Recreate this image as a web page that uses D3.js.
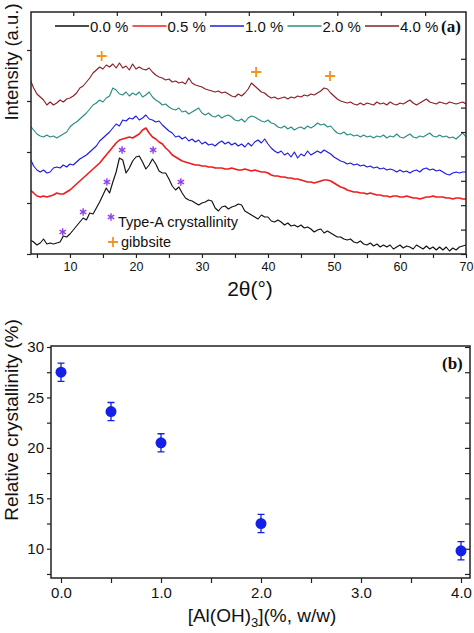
<!DOCTYPE html>
<html>
<head>
<meta charset="utf-8">
<script src="https://cdn.jsdelivr.net/npm/d3@7"></script>
<style>
  body { margin: 0; background: #fff; }
  text { font-family: Arial, "Liberation Sans", sans-serif; fill: #111; }
</style>
</head>
<body>
<svg id="chart" width="474" height="633"></svg>
<script>
// ---- panel (a): XRD patterns, sampled every 0.5 deg from 4 to 70 ----
var theta = d3.range(4, 70.25, 0.5);

var i00 = [14,12,9,11,15,10,11,10,11,12,
  18,17,20,24,28,32,36,34,41,40,
  46,52,59,66,61,72,82,96,94,81,
  86,93,97,98,92,85,89,95,90,83,
  81,81,75,68,64,67,61,56,54,53,
  51,49,51,52,54,53,46,43,47,48,
  45,47,48,50,49,43,41,39,37,35,
  39,37,37,33,32,34,32,29,31,28,
  29,27,29,26,27,25,22,24,25,21,
  23,21,19,17,17,15,14,15,12,11,
  13,10,9,11,8,10,7,9,7,9,
  5,7,9,6,8,7,5,9,7,5,
  8,5,7,4,7,4,7,3,6,4,
  7,8,9];

var i05 = [64,61,58,57,58,57,58,59,61,60,
  60,62,64,67,70,73,76,79,82,85,
  88,91,95,99,103,107,111,114,115,116,
  117,116,118,120,124,126,121,117,115,112,
  110,106,103,99,97,95,93,92,91,90,
  89,89,88,88,87,87,86,86,86,85,
  85,86,85,84,84,85,84,83,84,83,
  82,82,81,79,78,78,77,77,76,76,
  75,75,74,73,72,72,71,72,73,74,
  74,73,71,69,67,66,64,63,62,62,
  61,61,60,61,60,59,59,58,58,57,
  58,58,57,57,58,57,56,56,55,56,
  57,57,58,57,57,57,56,56,55,56,
  56,55,55];

var i10 = [95,88,84,82,84,81,82,86,87,86,
  89,87,90,89,92,95,97,99,102,105,
  108,113,116,119,122,126,130,128,134,133,
  136,135,138,134,136,139,135,134,132,133,
  129,126,123,121,117,118,115,117,113,115,
  112,114,110,112,109,110,108,111,113,110,
  112,109,111,108,110,107,111,108,112,114,
  111,115,110,106,103,101,103,99,101,97,
  102,96,100,98,103,99,101,103,101,104,
  102,100,97,95,93,92,90,91,89,90,
  88,89,87,88,86,87,85,86,84,85,
  84,82,84,82,83,81,83,84,82,85,
  86,84,85,83,84,82,80,79,81,82,
  81,82,82];

var i20 = [128,124,120,118,117,119,117,118,116,118,
  120,122,127,130,132,135,138,141,145,149,
  151,154,152,156,158,166,164,160,159,162,
  158,161,159,162,157,159,162,157,154,152,
  149,150,147,145,144,146,142,143,140,142,
  144,146,141,139,141,138,137,139,136,138,
  139,137,134,133,135,132,136,138,137,135,
  133,132,134,131,130,127,126,128,125,127,
  124,126,127,125,128,126,128,131,129,130,
  127,128,124,121,120,122,119,120,118,119,
  117,119,117,118,116,118,117,119,116,118,
  117,120,117,116,118,120,117,116,118,117,
  119,121,118,117,119,117,118,116,117,115,
  118,121,117];

var i40 = [174,166,160,157,154,149,152,149,151,154,
  152,155,156,158,161,166,168,172,176,181,
  184,187,185,189,187,190,186,191,186,188,
  184,190,185,187,185,184,186,182,179,177,
  176,174,175,172,173,171,172,170,176,171,
  169,168,167,165,164,163,162,163,161,162,
  160,158,157,160,158,161,165,171,168,165,
  162,161,158,156,157,155,156,157,155,157,
  156,158,157,159,158,160,159,161,163,166,
  165,161,158,155,153,152,151,152,150,149,
  151,149,151,150,149,152,150,151,149,152,
  150,149,151,150,152,154,151,149,151,153,
  155,152,151,150,152,151,150,152,151,150,
  151,152,150];

var seriesNames = ["0.0 %", "0.5 %", "1.0 %", "2.0 %", "4.0 %"];
var seriesColors = ["#111111", "#f01c1c", "#1c1ce0", "#2c8c84", "#8a1f27"];
var seriesValues = [i00, i05, i10, i20, i40];

var starTheta = [8.9, 12.0, 15.6, 17.9, 22.6, 26.8];
var starInt = [22, 42, 72, 104, 104, 72];
var gibbTheta = [14.8, 38.2, 49.4];
var gibbInt = [198, 182, 178];

var xTicksA = [5, 10, 15, 20, 25, 30, 35, 40, 45, 50, 55, 60, 65, 70];
var xTopTicksA = [10.5, 17.1, 23.8, 30.5, 37.1, 43.8, 50.5, 57.1, 63.8];
var yLeftTicksA = [0, 51, 102, 153, 204];
var yRightTicksA = [0, 24.4, 48.8, 73.2, 97.6, 122, 146.4, 170.8, 195.2];

// ---- panel (b): relative crystallinity ----
var conc = [0.0, 0.5, 1.0, 2.0, 4.0];
var cryst = [27.5, 23.6, 20.5, 12.5, 9.8];
var crystErr = [0.9, 0.9, 0.9, 0.9, 0.9];
var xTicksB = [0, 0.5, 1, 1.5, 2, 2.5, 3, 3.5, 4];
var yTicksB = [7.5, 10, 12.5, 15, 17.5, 20, 22.5, 25, 27.5, 30];

var svg = d3.select('#chart');
var axisColor = '#222';

function styleAxis(g) {
  g.select('.domain').remove();
  g.selectAll('.tick line').attr('stroke', axisColor).attr('stroke-width', 1.2);
  g.selectAll('.tick text').attr('fill', '#111');
}

// ================= panel (a) =================
var a = { left: 31, right: 466, top: 12, bottom: 254 };
var xA = d3.scaleLinear().domain([4.1, 70]).range([a.left, a.right]);
var yA = d3.scaleLinear().domain([0, 242]).range([a.bottom, a.top]);

svg.append('defs').append('clipPath').attr('id', 'clipA')
  .append('rect').attr('x', a.left).attr('y', a.top)
  .attr('width', a.right - a.left).attr('height', a.bottom - a.top);

var line = d3.line()
  .x(function (d, i) { return xA(theta[i]); })
  .y(function (d) { return yA(d); });

svg.append('g').attr('clip-path', 'url(#clipA)')
  .selectAll('path')
  .data(seriesValues)
  .join('path')
  .attr('d', line)
  .attr('fill', 'none')
  .attr('stroke', function (d, i) { return seriesColors[i]; })
  .attr('stroke-width', function (d, i) { return i === 1 ? 1.6 : 1.15; })
  .attr('stroke-linejoin', 'round');

// bottom axis
svg.append('g').attr('transform', 'translate(0,' + a.bottom + ')')
  .call(d3.axisBottom(xA).tickValues(xTicksA).tickSize(4).tickPadding(4)
    .tickFormat(function (d) { return d % 10 === 0 ? d : ''; }))
  .call(styleAxis)
  .selectAll('.tick text').style('font-size', '12.5px');

svg.append('g').attr('transform', 'translate(0,' + a.top + ')')
  .call(d3.axisBottom(xA).tickValues(xTopTicksA).tickSize(4).tickFormat(''))
  .call(styleAxis);

svg.append('g').attr('transform', 'translate(' + a.left + ',0)')
  .call(d3.axisLeft(yA).tickValues(yLeftTicksA).tickSize(4).tickFormat(''))
  .call(styleAxis);

svg.append('g').attr('transform', 'translate(' + a.right + ',0)')
  .call(d3.axisLeft(yA).tickValues(yRightTicksA).tickSize(5).tickFormat(''))
  .call(styleAxis);

svg.append('rect').attr('x', a.left).attr('y', a.top)
  .attr('width', a.right - a.left).attr('height', a.bottom - a.top)
  .attr('fill', 'none').attr('stroke', axisColor).attr('stroke-width', 1.5);

// crystallinity and gibbsite markers
var starSym = d3.symbol().type(d3.symbolAsterisk).size(38);
svg.append('g').selectAll('path')
  .data(starTheta)
  .join('path')
  .attr('transform', function (d, i) { return 'translate(' + xA(d) + ',' + yA(starInt[i]) + ')'; })
  .attr('d', starSym)
  .attr('fill', 'none').attr('stroke', '#9040e8').attr('stroke-width', 1.4);

svg.append('g').selectAll('path')
  .data(gibbTheta)
  .join('path')
  .attr('d', function (d, i) {
    var cx = xA(d), cy = yA(gibbInt[i]);
    return 'M' + (cx - 5) + ',' + cy + 'H' + (cx + 5) + 'M' + cx + ',' + (cy - 5) + 'V' + (cy + 5);
  })
  .attr('fill', 'none').attr('stroke', '#f6921e').attr('stroke-width', 1.8);

// key for markers
svg.append('path').attr('transform', 'translate(111,217)').attr('d', starSym)
  .attr('fill', 'none').attr('stroke', '#9040e8').attr('stroke-width', 1.4);
svg.append('text').attr('x', 118).attr('y', 227).style('font-size', '14.5px').text('Type-A crystallinity');
svg.append('path').attr('d', 'M108,242H118M113,237V247')
  .attr('fill', 'none').attr('stroke', '#f6921e').attr('stroke-width', 1.8);
svg.append('text').attr('x', 121).attr('y', 247).style('font-size', '14.5px').text('gibbsite');

// legend
var legend = svg.append('g').selectAll('g')
  .data(seriesNames)
  .join('g')
  .attr('transform', function (d, i) { return 'translate(' + (55 + 77.5 * i) + ',26)'; });
legend.append('line').attr('x1', 0).attr('x2', 34).attr('y1', 0).attr('y2', 0)
  .attr('stroke', function (d, i) { return seriesColors[i]; })
  .attr('stroke-width', function (d, i) { return i === 1 ? 1.6 : 1.3; });
legend.append('text').attr('x', 35).attr('y', 5.5).style('font-size', '15px')
  .text(function (d) { return d; });

svg.append('text').attr('x', 441).attr('y', 32)
  .style('font-family', '"Times New Roman", "Liberation Serif", serif')
  .style('font-weight', 'bold').style('font-size', '17px').text('(a)');

svg.append('text')
  .attr('transform', 'translate(18,62) rotate(-90)')
  .attr('text-anchor', 'middle').style('font-size', '18.5px')
  .text('Intensity (a.u.)');

svg.append('text').attr('x', 250).attr('y', 296)
  .attr('text-anchor', 'middle').style('font-size', '21px')
  .text('2θ(°)');

// ================= panel (b) =================
var b = { left: 51, right: 470, top: 346, bottom: 578 };
var xB = d3.scaleLinear().domain([-0.1, 4.09]).range([b.left, b.right]);
var yB = d3.scaleLinear().domain([7.1, 30.1]).range([b.bottom, b.top]);

svg.append('g').attr('transform', 'translate(0,' + b.bottom + ')')
  .call(d3.axisBottom(xB).tickValues(xTicksB).tickSize(5).tickPadding(4)
    .tickFormat(function (d) { return d % 1 === 0 ? d3.format('.1f')(d) : ''; }))
  .call(styleAxis)
  .selectAll('.tick text').style('font-size', '15px');

svg.append('g').attr('transform', 'translate(' + b.left + ',0)')
  .call(d3.axisLeft(yB).tickValues(yTicksB).tickSize(4).tickPadding(3)
    .tickFormat(function (d) { return d % 5 === 0 ? d : ''; }))
  .call(styleAxis)
  .selectAll('.tick text').style('font-size', '15px');

svg.append('g').attr('transform', 'translate(' + b.right + ',0)')
  .call(d3.axisLeft(yB).tickValues(yTicksB).tickSize(5).tickFormat(''))
  .call(styleAxis);

svg.append('rect').attr('x', b.left).attr('y', b.top)
  .attr('width', b.right - b.left).attr('height', b.bottom - b.top)
  .attr('fill', 'none').attr('stroke', axisColor).attr('stroke-width', 1.5);

var pts = svg.append('g').selectAll('g')
  .data(conc)
  .join('g');
pts.append('path')
  .attr('d', function (d, i) {
    var cx = xB(d), y1 = yB(cryst[i] - crystErr[i]), y2 = yB(cryst[i] + crystErr[i]);
    return 'M' + cx + ',' + y1 + 'V' + y2 +
      'M' + (cx - 3.5) + ',' + y1 + 'H' + (cx + 3.5) +
      'M' + (cx - 3.5) + ',' + y2 + 'H' + (cx + 3.5);
  })
  .attr('fill', 'none').attr('stroke', '#1420e0').attr('stroke-width', 1.3);
pts.append('circle')
  .attr('cx', function (d) { return xB(d); })
  .attr('cy', function (d, i) { return yB(cryst[i]); })
  .attr('r', 5.5)
  .attr('fill', '#1420e8');

svg.append('text').attr('x', 442).attr('y', 369)
  .style('font-family', '"Times New Roman", "Liberation Serif", serif')
  .style('font-weight', 'bold').style('font-size', '17px').text('(b)');

svg.append('text')
  .attr('transform', 'translate(18,420) rotate(-90)')
  .attr('text-anchor', 'middle').style('font-size', '19px')
  .text('Relative crystallinity (%)');

var xl = svg.append('text').attr('x', 262).attr('y', 622)
  .attr('text-anchor', 'middle').style('font-size', '19px');
xl.append('tspan').text('[Al(OH)');
xl.append('tspan').attr('dy', 5).style('font-size', '13px').text('3');
xl.append('tspan').attr('dy', -5).text('](%, w/w)');
</script>
</body>
</html>
